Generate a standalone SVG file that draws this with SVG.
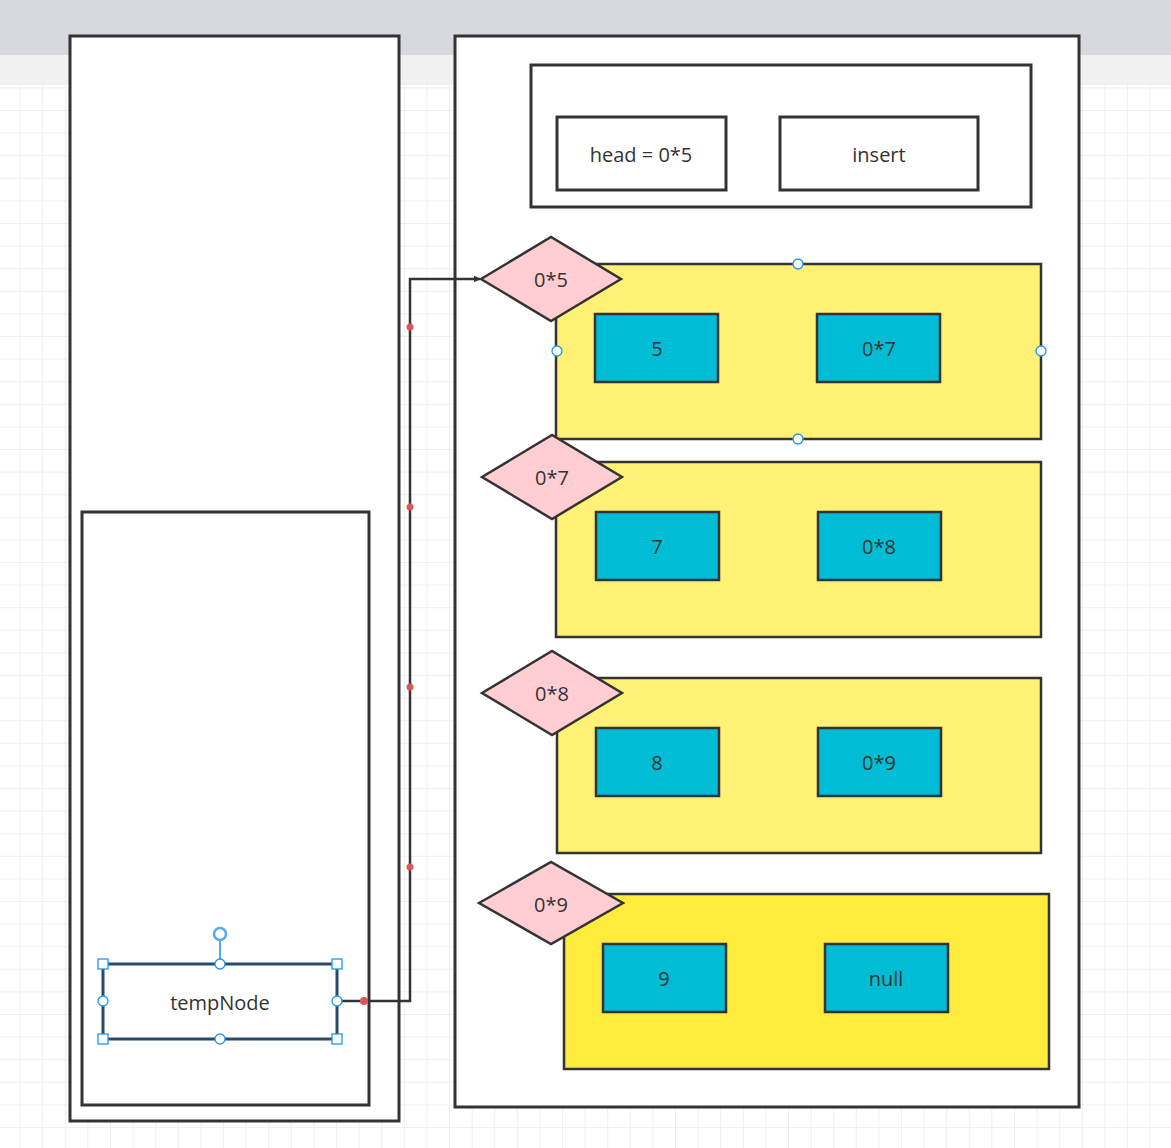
<svg xmlns="http://www.w3.org/2000/svg" width="1171" height="1148" viewBox="0 0 1171 1148">
<defs>
<pattern id="grid" x="-2" y="-2" width="22.6" height="22.6" patternUnits="userSpaceOnUse"><path d="M22.6 0V22.6H0" fill="none" stroke="#ebebeb" stroke-width="1.5"/></pattern>
<marker id="arr" viewBox="0 0 10 10" refX="9" refY="5" markerWidth="7" markerHeight="7" orient="auto" markerUnits="userSpaceOnUse"><path d="M0 0L10 5L0 10z" fill="#333"/></marker>
<style>
text{font-family:"Segoe UI","Open Sans","Noto Sans",sans-serif;font-size:20px;fill:#333;text-anchor:middle;dominant-baseline:central}
.box{fill:#fff;stroke:#333;stroke-width:3}
.y{fill:#fff176;stroke:#333;stroke-width:2.5}
.c{fill:#00bcd4;stroke:#333;stroke-width:2.5}
.d{fill:#ffcdd2;stroke:#333;stroke-width:2.5}
.h{fill:#fff;stroke:#2196f3;stroke-width:1.3}
.r{fill:#e05555}
</style>
</defs>
<rect width="1171" height="1148" fill="#fff"/>
<rect y="85" width="1171" height="1063" fill="url(#grid)"/>
<rect width="1171" height="55" fill="#d8d9de"/>
<rect y="55" width="1171" height="30" fill="#f1f1f1"/>
<g id="left"><rect class="box" x="70" y="36" width="329" height="1085"/></g>
<g id="leftInner"><rect class="box" x="82" y="512" width="287" height="593"/></g>
<g id="right"><rect class="box" x="455" y="36" width="624" height="1071"/></g>
<g id="header"><rect class="box" x="531" y="65" width="500" height="142"/>
<rect class="box" x="557" y="117" width="169" height="73"/><text x="641" y="154">head = 0*5</text>
<rect class="box" x="780" y="117" width="198" height="73"/><text x="879" y="154">insert</text></g>
<g id="node1"><rect class="y" x="556" y="264" width="485" height="175"/>
<rect class="c" x="595" y="314" width="123" height="68"/><text x="657" y="348">5</text>
<rect class="c" x="817" y="314" width="123" height="68"/><text x="879" y="348">0*7</text>
<polygon class="d" points="481,279 551,237 621,279 551,321"/><text x="551" y="279">0*5</text>
<circle class="h" cx="798" cy="264" r="5"/><circle class="h" cx="798" cy="439" r="5"/><circle class="h" cx="557" cy="351" r="5"/><circle class="h" cx="1041" cy="351" r="5"/></g>
<g id="node2"><rect class="y" x="556" y="462" width="485" height="175"/>
<rect class="c" x="596" y="512" width="123" height="68"/><text x="657" y="546">7</text>
<rect class="c" x="818" y="512" width="123" height="68"/><text x="879" y="546">0*8</text>
<polygon class="d" points="482,477 552,435 622,477 552,519"/><text x="552" y="477">0*7</text></g>
<g id="node3"><rect class="y" x="557" y="678" width="484" height="175"/>
<rect class="c" x="596" y="728" width="123" height="68"/><text x="657" y="762">8</text>
<rect class="c" x="818" y="728" width="123" height="68"/><text x="879" y="762">0*9</text>
<polygon class="d" points="482,693 552,651 622,693 552,735"/><text x="552" y="693">0*8</text></g>
<g id="node4"><rect class="y" x="564" y="894" width="485" height="175" style="fill:#ffeb3b"/>
<rect class="c" x="603" y="944" width="123" height="68"/><text x="664" y="978">9</text>
<rect class="c" x="825" y="944" width="123" height="68"/><text x="886" y="978">null</text>
<polygon class="d" points="479,903 551,862 623,903 551,944"/><text x="551" y="904">0*9</text></g>
<g id="connectors"><polyline points="338,1001 410,1001 410,279 480,279" fill="none" stroke="#333" stroke-width="2.5" marker-end="url(#arr)"/>
<circle class="r" cx="364" cy="1001" r="4"/><circle class="r" cx="410" cy="327" r="3.5"/><circle class="r" cx="410" cy="507" r="3.5"/><circle class="r" cx="410" cy="687" r="3.5"/><circle class="r" cx="410" cy="867" r="3.5"/></g>
<g id="tempNode"><rect x="103" y="964" width="234" height="75" fill="#fff" stroke="#2a4a6a" stroke-width="3"/><text x="220" y="1002">tempNode</text>
<line x1="220" y1="940" x2="220" y2="964" stroke="#5aa9f5" stroke-width="2"/><circle cx="220" cy="934" r="6" fill="#fff" stroke="#5aa9f5" stroke-width="2.5"/>
<rect class="h" x="98" y="959" width="10" height="10"/><rect class="h" x="332" y="959" width="10" height="10"/><rect class="h" x="98" y="1034" width="10" height="10"/><rect class="h" x="332" y="1034" width="10" height="10"/>
<circle class="h" cx="220" cy="964" r="5"/><circle class="h" cx="220" cy="1039" r="5"/><circle class="h" cx="103" cy="1001" r="5"/><circle class="h" cx="337" cy="1001" r="5"/></g>
</svg>
